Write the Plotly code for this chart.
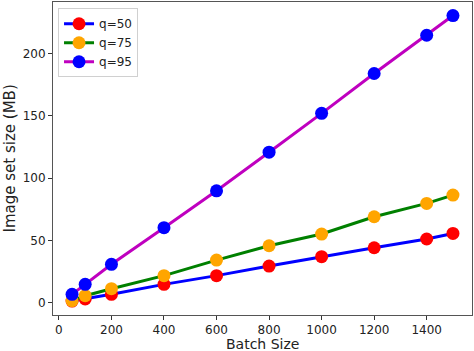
import plotly.graph_objects as go

batch = [50, 100, 200, 400, 600, 800, 1000, 1200, 1400, 1500]
q50 = [1.3, 3.0, 6.7, 14.7, 21.7, 29.4, 36.9, 44.1, 51.1, 55.6]
q75 = [1.6, 5.6, 11.2, 21.7, 34.2, 45.7, 55.1, 69.0, 79.7, 86.4]
q95 = [6.7, 14.7, 30.8, 60.2, 89.8, 120.8, 152.0, 184.0, 214.7, 230.5]
xticks = [0, 200, 400, 600, 800, 1000, 1200, 1400]
yticks = [0, 50, 100, 150, 200]

series = [
    ("q=50", q50, "#0000ff", "#ff0000"),
    ("q=75", q75, "#008000", "#ffa500"),
    ("q=95", q95, "#bf00bf", "#0000ff"),
]

fig = go.Figure()
for name, ys, lc, mc in series:
    fig.add_trace(go.Scatter(
        x=batch, y=ys, name=name, mode="lines+markers",
        line=dict(color=lc, width=3),
        marker=dict(color=mc, size=13, line=dict(width=0)),
    ))

font = dict(family="DejaVu Sans", size=12, color="#222")
fig.update_layout(
    width=474, height=351,
    margin=dict(l=53, r=2, t=2, b=36),
    paper_bgcolor="white", plot_bgcolor="white",
    font=font,
    showlegend=True,
    legend=dict(x=0.012, y=0.98, xanchor="left", yanchor="top",
                bordercolor="#d0d0d0", borderwidth=1, bgcolor="white",
                font=dict(family="DejaVu Sans", size=12, color="#222"),
                itemwidth=30, tracegroupgap=0),
    xaxis=dict(range=[-22.5, 1572.5], tickvals=xticks, ticks="outside",
               ticklen=4, tickcolor="#333", showgrid=False, zeroline=False,
               showline=True, linecolor="#555", linewidth=1, mirror=True),
    yaxis=dict(range=[-9.9, 241.4], tickvals=yticks, ticks="outside",
               ticklen=4, tickcolor="#333", showgrid=False, zeroline=False,
               showline=True, linecolor="#555", linewidth=1, mirror=True),
    annotations=[
        dict(text="Batch Size", xref="paper", yref="paper", x=0.5, y=0,
             yshift=-19, xanchor="center", yanchor="top", showarrow=False,
             font=dict(family="DejaVu Sans", size=14, color="#222")),
        dict(text="Image set size (MB)", xref="paper", yref="paper", x=0,
             y=0.5, xshift=-44, xanchor="center", yanchor="middle",
             textangle=-90, showarrow=False,
             font=dict(family="DejaVu Sans", size=15, color="#222")),
    ],
)
fig.write_html("out.html")
